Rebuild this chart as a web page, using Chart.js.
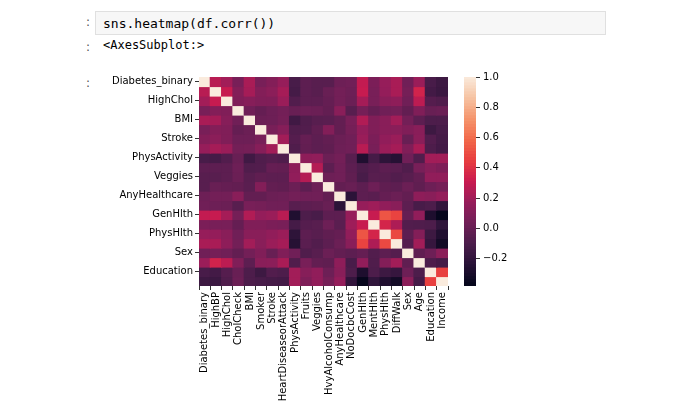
<!DOCTYPE html>
<html><head><meta charset="utf-8">
<script src="https://cdn.jsdelivr.net/npm/chart.js@4"></script>
<style>
body{margin:0;background:#fff;width:680px;height:409px;position:relative;overflow:hidden;font-family:"DejaVu Sans",sans-serif}
.inbox{position:absolute;left:95px;top:11px;width:511px;height:24px;background:#f7f7f7;border:1px solid #e0e0e0;font-family:"DejaVu Sans Mono",monospace;font-size:13px;line-height:24px;padding-left:7px;box-sizing:border-box;color:#000}
.p{position:absolute;font-size:12px;color:#555}
.out{position:absolute;left:103px;top:38px;font-family:"DejaVu Sans Mono",monospace;font-size:12px;color:#000}
</style></head><body>
<div class="p" style="left:86px;top:15px">:</div>
<div class="inbox">sns.heatmap(df.corr())</div>
<div class="p" style="left:86px;top:40px">:</div>
<div class="out">&lt;AxesSubplot:&gt;</div>
<div class="p" style="left:86px;top:76px">:</div>
<div style="position:absolute;left:0;top:60px;width:460px;height:349px"><canvas id="c1"></canvas></div>
<div style="position:absolute;left:455px;top:60px;width:100px;height:249px"><canvas id="c2"></canvas></div>
<script>
const names=["Diabetes_binary","HighBP","HighChol","CholCheck","BMI","Smoker","Stroke","HeartDiseaseorAttack","PhysActivity","Fruits","Veggies","HvyAlcoholConsump","AnyHealthcare","NoDocbcCost","GenHlth","MentHlth","PhysHlth","DiffWalk","Sex","Age","Education","Income"];
// upper triangle correlations (row i, columns i+1..21)
const upper=[
[.26,.20,.06,.22,.06,.10,.17,-.12,-.04,-.06,-.06,.02,.03,.29,.07,.17,.22,.03,.18,-.12,-.16],
[.30,.10,.21,.10,.13,.21,-.13,-.04,-.06,-.00,.04,.02,.30,.06,.16,.22,.05,.34,-.14,-.17],
[.09,.11,.09,.09,.18,-.08,-.04,-.04,-.01,.04,.01,.21,.06,.12,.14,.03,.27,-.07,-.09],
[.03,-.01,.02,.04,.00,.02,.01,-.02,.12,-.06,.05,-.01,.03,.04,-.02,.09,.00,.01],
[.01,.02,.05,-.15,-.09,-.06,-.05,-.02,.06,.24,.09,.12,.20,.04,-.04,-.10,-.10],
[.06,.11,-.09,-.08,-.03,.10,-.02,.05,.16,.09,.12,.12,.09,.12,-.16,-.12],
[.20,-.07,-.01,-.04,-.02,.01,.03,.18,.07,.15,.18,.00,.13,-.08,-.13],
[-.09,-.02,-.04,-.03,.02,.03,.26,.06,.18,.21,.09,.22,-.10,-.14],
[.14,.15,.01,.04,-.06,-.27,-.13,-.22,-.25,.03,-.09,.20,.20],
[.25,-.04,.03,-.04,-.10,-.07,-.04,-.05,-.09,.06,.11,.08],
[.02,.03,-.03,-.12,-.06,-.06,-.08,-.06,-.02,.15,.15],
[-.02,.00,-.04,.02,-.03,-.04,.01,-.03,.02,.05],
[-.23,-.04,-.05,-.01,.01,-.02,.14,.12,.16],
[.17,.19,.15,.12,-.04,-.12,-.10,-.20],
[.30,.52,.46,-.01,.15,-.28,-.37],
[.35,.23,-.08,-.09,-.10,-.21],
[.48,-.04,.10,-.16,-.27],
[-.07,.20,-.19,-.32],
[-.03,.02,.13],
[-.10,-.13],
[.45],
[]];
const vmin=-0.38, vmax=1.0;
const stops=[[3,5,26],[40,18,54],[76,29,75],[113,31,87],[151,29,90],[203,27,79],[232,63,63],[242,106,74],[245,150,110],[246,196,164],[250,235,221]];
function rocket(v){let t=(v-vmin)/(vmax-vmin);t=Math.max(0,Math.min(1,t))*(stops.length-1);const i=Math.min(Math.floor(t),stops.length-2),f=t-i;const a=stops[i],b=stops[i+1];return `rgb(${a.map((x,k)=>Math.round(x+(b[k]-x)*f)).join(',')})`;}
const n=names.length;
const M=[...Array(n)].map(()=>Array(n).fill(1));
upper.forEach((row,i)=>row.forEach((v,k)=>{const j=i+1+k;M[i][j]=v;M[j][i]=v;}));
const font={family:"DejaVu Sans",size:10};
new Chart(document.getElementById('c1'),{type:'bar',
data:{labels:names,datasets:names.map((r,i)=>({data:names.map(()=>1),backgroundColor:M[i].map(rocket),borderWidth:0,inflateAmount:0.6,categoryPercentage:1,barPercentage:1}))},
options:{responsive:true,maintainAspectRatio:false,animation:false,events:[],
layout:{padding:{left:0,right:12,top:17,bottom:0}},
plugins:{legend:{display:false},tooltip:{enabled:false}},
scales:{
x:{stacked:true,grid:{display:true,drawOnChartArea:false,tickLength:4,color:'#333'},border:{display:false},
ticks:{font,color:'#000',autoSkip:false,minRotation:90,maxRotation:90,padding:2},
afterFit:s=>{s.height=123;}},
y:{stacked:true,reverse:true,min:0,max:22,grid:{display:true,drawOnChartArea:false,tickLength:4,color:'#333'},border:{display:false},
afterBuildTicks:s=>{s.ticks=[0,2,4,6,8,10,12,14,16,18,20].map(i=>({value:i+0.5}));},
ticks:{font,color:'#000',padding:2,callback:v=>names[Math.floor(v)]},
afterFit:s=>{s.width=199;}}}}});
const N=70,segs=[];
for(let k=0;k<N;k++){const lo=vmin+(vmax-vmin)*k/N,hi=vmin+(vmax-vmin)*(k+1)/N;segs.push({data:[[lo,hi]],backgroundColor:rocket((lo+hi)/2),borderWidth:0,inflateAmount:0.6,grouped:false,categoryPercentage:1,barPercentage:1});}
new Chart(document.getElementById('c2'),{type:'bar',data:{labels:[''],datasets:segs},
options:{responsive:true,maintainAspectRatio:false,animation:false,events:[],
layout:{padding:{left:9,right:0,top:17,bottom:23}},
plugins:{legend:{display:false},tooltip:{enabled:false}},
scales:{x:{display:false},
y:{position:'right',min:vmin,max:vmax,grid:{display:true,drawOnChartArea:false,tickLength:4,color:'#333'},border:{display:false},
afterBuildTicks:s=>{s.ticks=[-0.2,0,0.2,0.4,0.6,0.8,1.0].map(v=>({value:v}));},
ticks:{font,color:'#000',padding:3,callback:v=>(Math.abs(v)<1e-9?0:v).toFixed(1).replace('-','−')},
afterFit:s=>{s.width=79;}}}}});
</script></body></html>
